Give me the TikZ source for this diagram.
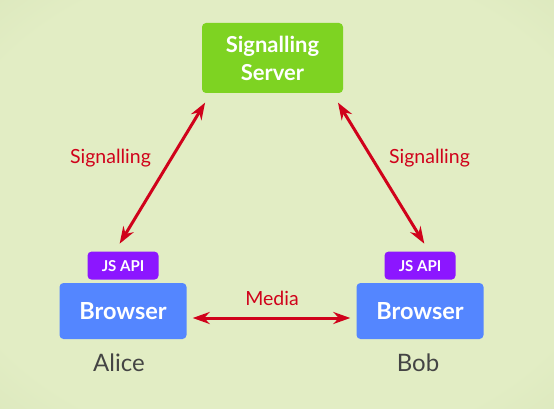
\documentclass[tikz,border=0pt]{standalone}
\usepackage{fontspec}
\setmainfont{Lato}
\usepackage{tikz}
\usetikzlibrary{positioning}
\usetikzlibrary{arrows.meta}

\definecolor{srvgreen}{RGB}{126,211,34}
\definecolor{brblue}{RGB}{84,134,255}
\definecolor{jspurple}{RGB}{140,22,255}
\definecolor{sigred}{RGB}{208,2,27}
\definecolor{namegrey}{RGB}{68,68,68}
\definecolor{bglight}{RGB}{226,237,196}
\definecolor{bgdark}{RGB}{192,208,156}
\pgfdeclareradialshading{bgshade}{\pgfpoint{0bp}{0bp}}{color(0bp)=(bglight); color(30bp)=(bglight); color(72bp)=(bgdark)}

\tikzset{
  box/.style={rectangle, rounded corners=4pt, inner sep=0pt, text=white, font=\bfseries\fontsize{22}{28}\selectfont, align=center},
  apibox/.style={box, fill=jspurple, minimum width=71pt, minimum height=28pt, font=\bfseries\fontsize{15}{15}\selectfont},
  browser/.style={box, fill=brblue, minimum width=127pt, minimum height=56pt, font=\bfseries\fontsize{23.5}{24}\selectfont},
  link/.style={draw=sigred, line width=3pt, {Stealth[length=17pt,width=12pt]}-{Stealth[length=17pt,width=12pt]}},
  lbl/.style={text=sigred, font=\fontsize{19.5}{19.5}\selectfont},
  who/.style={text=namegrey, font=\fontsize{24}{24}\selectfont}
}

\begin{document}
\begin{tikzpicture}[x=1pt,y=-1pt]
        \useasboundingbox (0,0) rectangle (554,409);
        \shade[shading=bgshade] (0,0) rectangle (554,409);

        \node [box, fill=srvgreen, minimum width=141pt, minimum height=70pt] (server) at (272.5,58) {Signalling\\Server};

        \node [browser] (alice) at (123,311) {Browser};
        \node [browser] (bob) at (420,311) {Browser};
        \node [apibox, above=3pt of alice] (alicejs) {JS API};
        \node [apibox, above=3pt of bob] (bobjs) {JS API};
        \node [who] (alicename) at (119,363) {Alice};
        \node [who] (bobname) at (418,363) {Bob};

        \draw [link, shorten <=9pt, shorten >=11pt] ([xshift=-8pt]alicejs.north) -- ([xshift=9pt]server.south west);
        \draw [link, shorten <=9pt, shorten >=11pt] ([xshift=9pt]bobjs.north) -- ([xshift=-11pt]server.south east);
        \draw [link, shorten <=6pt, shorten >=6pt] ([yshift=-7pt]alice.east) -- ([yshift=-7pt]bob.west);

        \node [lbl] (sigleft) at (110.5,158) {Signalling};
        \node [lbl] (sigright) at (429.5,158) {Signalling};
        \node [lbl] (media) at (272,298) {Media};
      \end{tikzpicture}
\end{document}
